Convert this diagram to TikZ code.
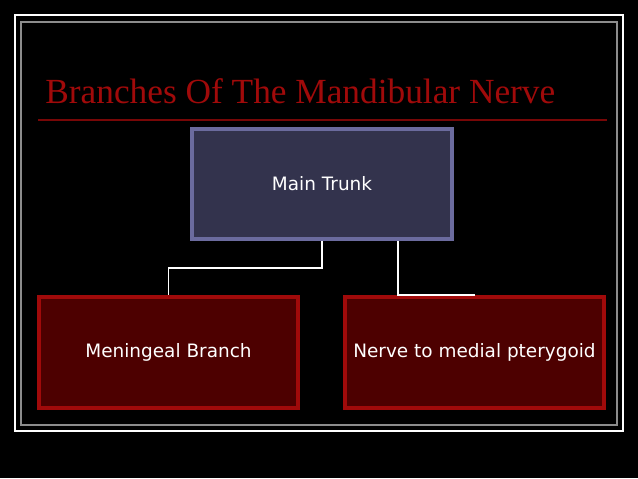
\documentclass[tikz,border=0pt]{standalone}
\usepackage{fontspec}
\setmainfont{DejaVu Sans}
\newfontfamily\titlefont{Liberation Serif}
\usetikzlibrary{positioning,calc}
\definecolor{titlered}{HTML}{A00A0A}
\definecolor{trunkfill}{HTML}{33334D}
\definecolor{trunkedge}{HTML}{6B6B9E}
\definecolor{branchfill}{HTML}{4D0000}
\definecolor{branchedge}{HTML}{A00A0A}
\begin{document}
\begin{tikzpicture}[
    x=0.02cm, y=-0.02cm,
    every node/.style={font=\fontsize{10.5}{12}\selectfont, text=white},
    trunkbox/.style={rectangle, fill=trunkfill, draw=trunkedge, line width=2.2pt,
        minimum width=5.2cm, minimum height=2.2cm},
    branchbox/.style={rectangle, fill=branchfill, draw=branchedge, line width=2.2pt,
        minimum width=5.18cm, minimum height=2.22cm},
    link/.style={draw=white, line width=1.1pt}
]

% Background and slide frame
\fill[black] (0,0) rectangle (638,478);
\useasboundingbox (0,0) rectangle (638,478);
\draw[white, line width=1.6pt] (15,15) rectangle (623,431);
\draw[black!45, line width=0.6pt] (21,22) rectangle (617,425);

% Title
\node[anchor=base west, inner sep=0pt, text=titlered, font=\titlefont\fontsize{20.1}{23}\selectfont]
    (title) at (45,103) {Branches Of The Mandibular Nerve};
\draw[titlered!75!black, line width=0.6pt] (38,120) -- (607,120);

% Boxes
\node[trunkbox] (trunk) at (322,184) {Main Trunk};
\node[branchbox] (mening) at (168.5,352.5) {Meningeal Branch};
\node[branchbox] (medpter) at (474.5,352.5) {Nerve to medial pterygoid};

% Connectors
\draw[link] (trunk.south) -- ++(0,27) -| (mening.north);
\draw[link] ([xshift=1.52cm]trunk.south) |- (medpter.north);

\end{tikzpicture}
\end{document}
